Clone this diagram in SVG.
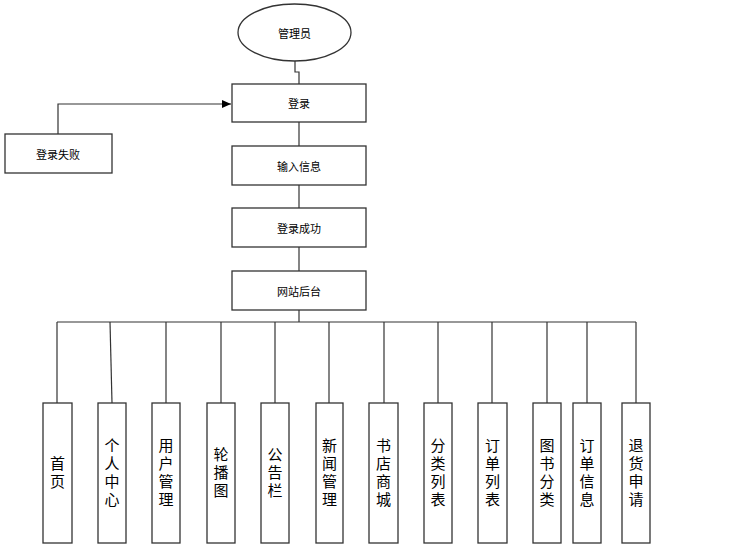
<svg xmlns="http://www.w3.org/2000/svg" width="734" height="551" viewBox="0 0 734 551">
<defs>
<marker id="arr" markerWidth="10" markerHeight="10" refX="9" refY="5" orient="auto" markerUnits="userSpaceOnUse">
<path d="M0,1 L9,5 L0,9 Z" fill="#000"/>
</marker>
<style>
.box{fill:#fff;stroke:#333;stroke-width:1.3}
.ln{fill:none;stroke:#333;stroke-width:1.2}
.t{font-family:"Noto Sans CJK SC","Liberation Sans",sans-serif;font-size:11px;fill:#000;text-anchor:middle;dominant-baseline:central}
.v{font-family:"Noto Sans CJK SC","Liberation Sans",sans-serif;font-size:15px;fill:#000;text-anchor:middle;writing-mode:vertical-rl;letter-spacing:3px}
</style>
</defs>
<rect width="734" height="551" fill="#fff"/>
<g id="connectors">
<polyline class="ln" points="295,61 295,72 299,72 299,84"/>
<polyline class="ln" points="58,134 58,104 231,104" marker-end="url(#arr)"/>
<line class="ln" x1="299" y1="122" x2="299" y2="146"/>
<line class="ln" x1="299" y1="185" x2="299" y2="208"/>
<line class="ln" x1="299" y1="247" x2="299" y2="271"/>
<line class="ln" x1="299" y1="310" x2="299" y2="322" stroke-width="2.2"/>
<line class="ln" x1="57" y1="322" x2="636" y2="322" stroke-width="1.8"/>
<line class="ln" x1="57" y1="322" x2="57" y2="403"/>
<line class="ln" x1="110" y1="322" x2="112" y2="403"/>
<line class="ln" x1="166" y1="322" x2="166" y2="403"/>
<line class="ln" x1="221" y1="322" x2="221" y2="403"/>
<line class="ln" x1="275" y1="322" x2="275" y2="403"/>
<line class="ln" x1="329" y1="322" x2="329" y2="403"/>
<line class="ln" x1="384" y1="322" x2="384" y2="403"/>
<line class="ln" x1="438" y1="322" x2="438" y2="403"/>
<line class="ln" x1="492" y1="322" x2="492" y2="403"/>
<line class="ln" x1="547" y1="322" x2="547" y2="403"/>
<line class="ln" x1="587" y1="322" x2="587" y2="403"/>
<line class="ln" x1="636" y1="322" x2="636" y2="403"/>
</g>
<g id="admin"><ellipse cx="294.5" cy="32.5" rx="56.5" ry="28.5" class="box"/><text class="t" x="294.5" y="32.5">管理员</text></g>
<g id="login"><rect class="box" x="232" y="84" width="134" height="38"/><text class="t" x="299" y="103">登录</text></g>
<g id="loginfail"><rect class="box" x="5" y="134" width="107" height="39"/><text class="t" x="58" y="154">登录失败</text></g>
<g id="input"><rect class="box" x="232" y="146" width="134" height="39"/><text class="t" x="299" y="165.5">输入信息</text></g>
<g id="success"><rect class="box" x="232" y="208" width="134" height="39"/><text class="t" x="299" y="227.5">登录成功</text></g>
<g id="backend"><rect class="box" x="232" y="271" width="134" height="39"/><text class="t" x="299" y="290.5">网站后台</text></g>
<g id="n1"><rect class="box" x="43" y="403" width="29" height="140"/><text class="v" x="57.5" y="474">首页</text></g>
<g id="n2"><rect class="box" x="98" y="403" width="28" height="140"/><text class="v" x="112" y="474">个人中心</text></g>
<g id="n3"><rect class="box" x="152" y="403" width="28" height="140"/><text class="v" x="166" y="474">用户管理</text></g>
<g id="n4"><rect class="box" x="207" y="403" width="28" height="140"/><text class="v" x="221" y="474">轮播图</text></g>
<g id="n5"><rect class="box" x="261" y="403" width="28" height="140"/><text class="v" x="275" y="474">公告栏</text></g>
<g id="n6"><rect class="box" x="316" y="403" width="27" height="140"/><text class="v" x="329.5" y="474">新闻管理</text></g>
<g id="n7"><rect class="box" x="369" y="403" width="29" height="140"/><text class="v" x="383.5" y="474">书店商城</text></g>
<g id="n8"><rect class="box" x="424" y="403" width="28" height="140"/><text class="v" x="438" y="474">分类列表</text></g>
<g id="n9"><rect class="box" x="478" y="403" width="29" height="140"/><text class="v" x="492.5" y="474">订单列表</text></g>
<g id="n10"><rect class="box" x="533" y="403" width="28" height="140"/><text class="v" x="547" y="474">图书分类</text></g>
<g id="n11"><rect class="box" x="573" y="403" width="28" height="140"/><text class="v" x="587" y="474">订单信息</text></g>
<g id="n12"><rect class="box" x="622" y="403" width="28" height="140"/><text class="v" x="636" y="474">退货申请</text></g>
</svg>
